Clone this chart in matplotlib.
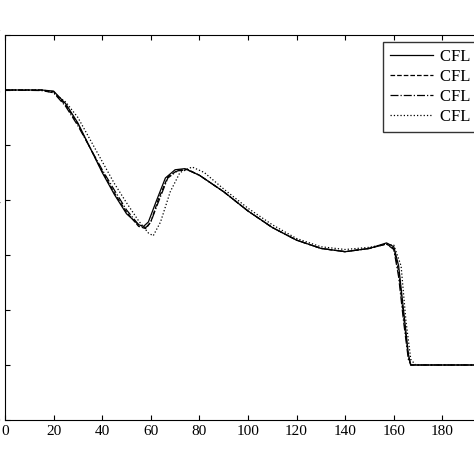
import matplotlib
matplotlib.use("Agg")
import matplotlib.pyplot as plt

x1 = [0, 15, 20, 25, 30, 35, 40, 45, 50, 55, 57, 59, 62, 66, 70, 74, 80, 90, 100, 110, 120, 130, 140, 150, 157, 160, 162, 164, 166, 167, 200]
y1 = [6, 6, 5.98, 5.75, 5.4, 4.95, 4.5, 4.1, 3.75, 3.55, 3.52, 3.6, 3.95, 4.4, 4.55, 4.57, 4.45, 4.15, 3.8, 3.5, 3.27, 3.12, 3.06, 3.12, 3.22, 3.15, 2.8, 2.0, 1.2, 1.0, 1.0]
x2 = [0, 15, 20, 25, 30, 35, 40, 45, 50, 55, 58, 60, 63, 67, 71, 75, 80, 90, 100, 110, 120, 130, 140, 150, 157, 160, 162, 164, 166, 167, 200]
y2 = [6, 6, 5.97, 5.72, 5.38, 4.95, 4.52, 4.13, 3.78, 3.52, 3.48, 3.6, 4.0, 4.42, 4.54, 4.56, 4.45, 4.15, 3.8, 3.5, 3.27, 3.12, 3.06, 3.12, 3.2, 3.12, 2.7, 1.9, 1.15, 1.0, 1.0]
x3 = [0, 15, 20, 25, 30, 35, 40, 45, 50, 55, 58, 60, 63, 67, 71, 75, 80, 90, 100, 110, 120, 130, 140, 150, 157, 160, 162, 164, 166, 167, 200]
y3 = [6, 5.99, 5.95, 5.7, 5.35, 4.95, 4.55, 4.18, 3.82, 3.55, 3.5, 3.6, 3.95, 4.4, 4.53, 4.55, 4.45, 4.15, 3.8, 3.5, 3.27, 3.12, 3.06, 3.12, 3.2, 3.1, 2.6, 1.8, 1.1, 1.0, 1.0]
x4 = [0, 15, 20, 25, 30, 35, 40, 45, 50, 55, 59, 61, 64, 68, 72, 77, 82, 90, 100, 110, 120, 130, 140, 150, 157, 160, 163, 165, 167, 169, 200]
y4 = [6, 6, 5.95, 5.78, 5.5, 5.1, 4.7, 4.3, 3.95, 3.62, 3.4, 3.35, 3.6, 4.15, 4.5, 4.6, 4.5, 4.2, 3.85, 3.55, 3.3, 3.15, 3.1, 3.14, 3.2, 3.18, 2.8, 1.8, 1.1, 1.0, 1.0]
labels = ["CFL = 0.2", "CFL = 0.4", "CFL = 0.6", "CFL = 0.8"]

plt.rcParams['font.family'] = ['Liberation Serif', 'DejaVu Serif']
fig = plt.figure(figsize=(4.74, 4.74), dpi=100)
ax = fig.add_axes([5/474, 54/474, 486/474, 385/474])
ax.plot(x1, y1, 'k-', lw=0.9, label=labels[0])
ax.plot(x2, y2, 'k--', lw=0.9, label=labels[1])
ax.plot(x3, y3, 'k-.', lw=0.9, label=labels[2])
ax.plot(x4, y4, 'k:', lw=0.9, label=labels[3])
ax.set_xlim(0, 200)
ax.set_ylim(0, 7)
ax.set_xticks(range(0, 201, 20))
ax.set_yticks(range(0, 8))
ax.tick_params(direction='in', top=True, right=True, labelsize=11)
ax.legend(loc='upper left', bbox_to_anchor=(383/474, 1 - 42/474), bbox_transform=fig.transFigure,
          fancybox=False, edgecolor='k', fontsize=12, handlelength=2.6, handletextpad=0.4,
          borderaxespad=0, labelspacing=0.25)
fig.savefig("out.png", dpi=100)
